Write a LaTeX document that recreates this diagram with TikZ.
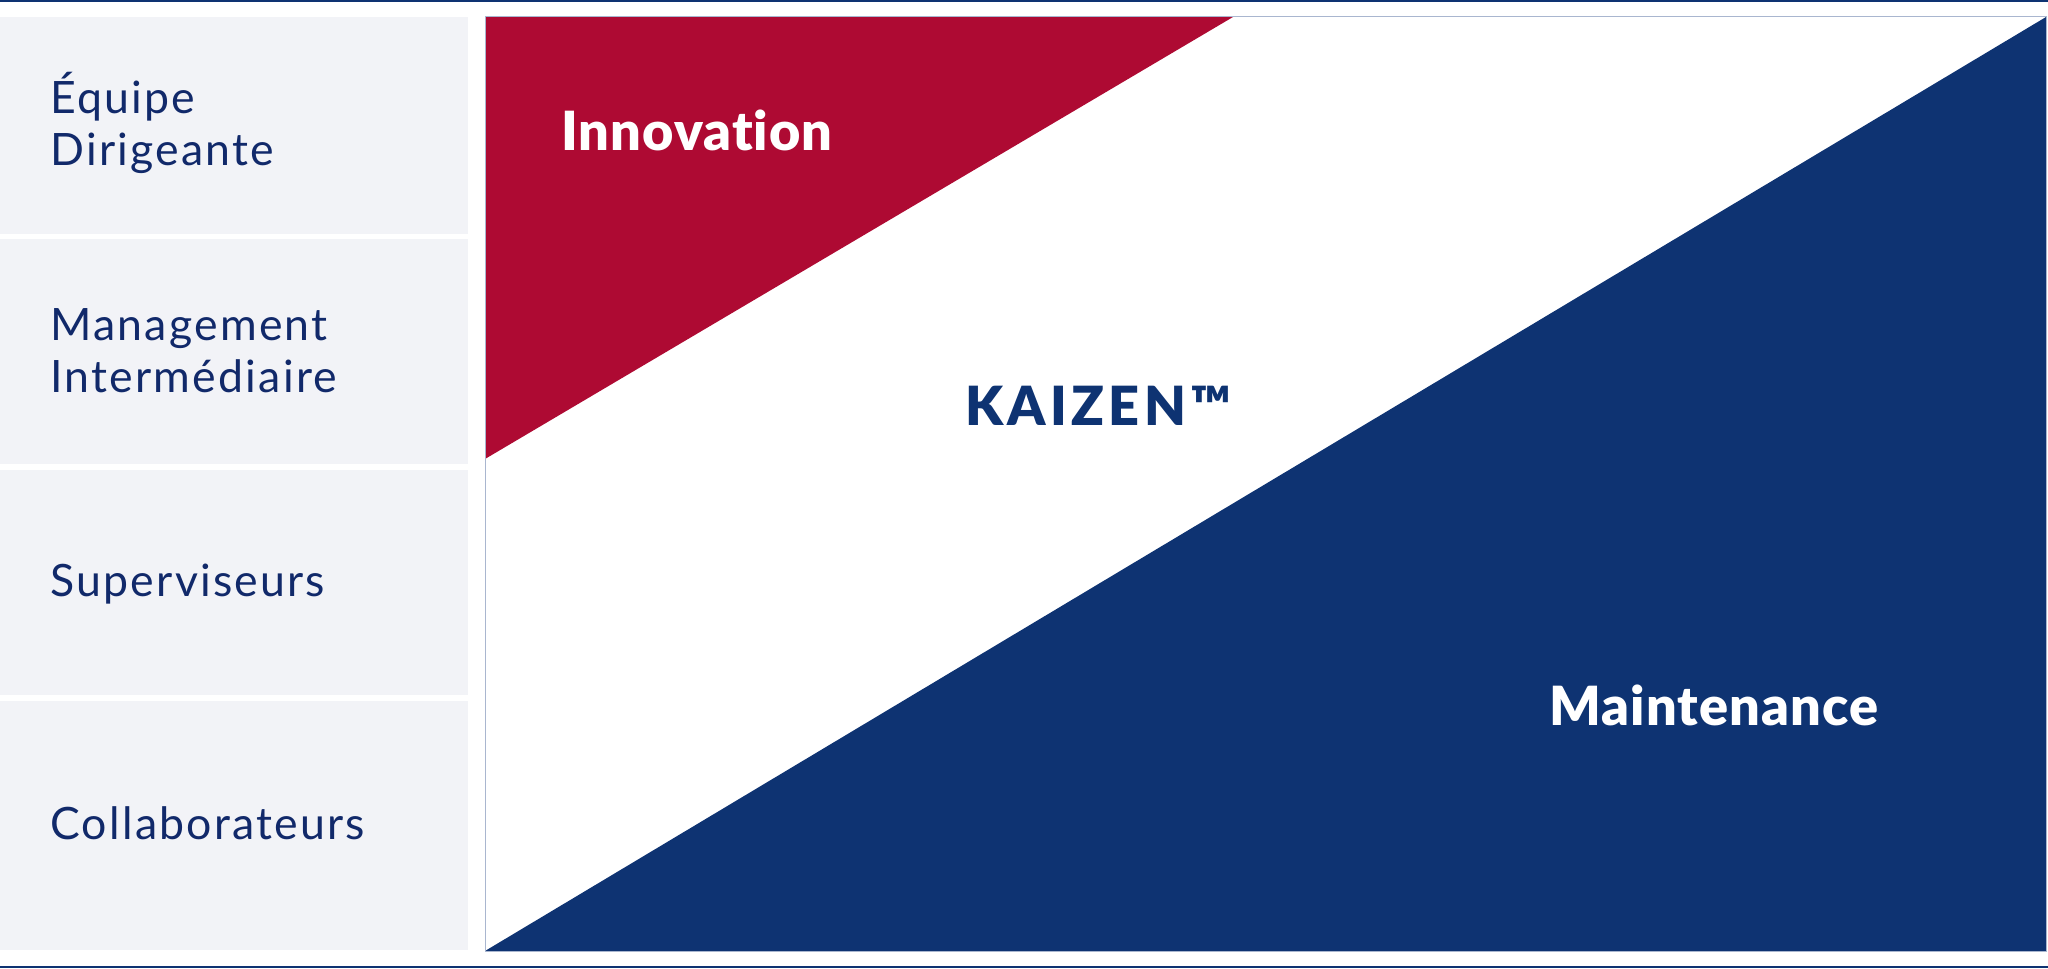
\documentclass[tikz,border=0pt]{standalone}
\usepackage{fontspec}
\setmainfont{Lato}[LetterSpace=5, Ligatures=NoCommon]
\newfontfamily\zonefont{Lato Black}[LetterSpace=2, Ligatures=NoCommon]
\definecolor{kzred}{HTML}{AE0A33}
\definecolor{kzblue}{HTML}{0E3372}
\definecolor{kzink}{HTML}{11296A}
\definecolor{kzpanel}{HTML}{F2F3F7}
\definecolor{kzframe}{HTML}{A9B6CF}
\tikzset{
    level/.style={fill=kzpanel},
    levellabel/.style={anchor=base west, inner sep=0pt, align=left, text=kzink,
        font=\fontsize{22.3}{26}\selectfont},
    zone/.style={anchor=base west, inner sep=0pt, font=\zonefont\fontsize{27}{30}\selectfont}}

\begin{document}
\begin{tikzpicture}[x=0.5pt, y=-0.5pt]

            \useasboundingbox (0,0) rectangle (2048,968);
            \draw[kzblue, line width=1pt] (0,1) -- (2048,1);
            \draw[kzblue, line width=1pt] (0,967) -- (2048,967);

            \fill[level] (0,17) rectangle (468,234);
            \fill[level] (0,239) rectangle (468,464);
            \fill[level] (0,470) rectangle (468,695);
            \fill[level] (0,701) rectangle (468,950);

            \node[levellabel] (L1) at (50,166) {Équipe\\Dirigeante};
            \node[levellabel] (L2) at (50,392) {Management\\Intermédiaire};
            \node[levellabel] (L3) at (50,596) {Superviseurs};
            \node[levellabel] (L4) at (50,839) {Collaborateurs};

            \fill[kzred] (485,17) -- (1233,17) -- (485,459) -- cycle;
            \fill[kzblue] (2046,17) -- (2046,951) -- (485,951) -- cycle;
            \draw[kzframe, line width=0.5pt] (485,17) rectangle (2046,951);

            \node[zone, text=white] (innov) at (561,151) {Innovation};
            \node[zone, text=kzblue] (kaizen) at (965,425) {\addfontfeatures{LetterSpace=8}KAIZEN™};
            \node[zone, text=white] (maint) at (1549,725) {Maintenance};

        \end{tikzpicture}
\end{document}
